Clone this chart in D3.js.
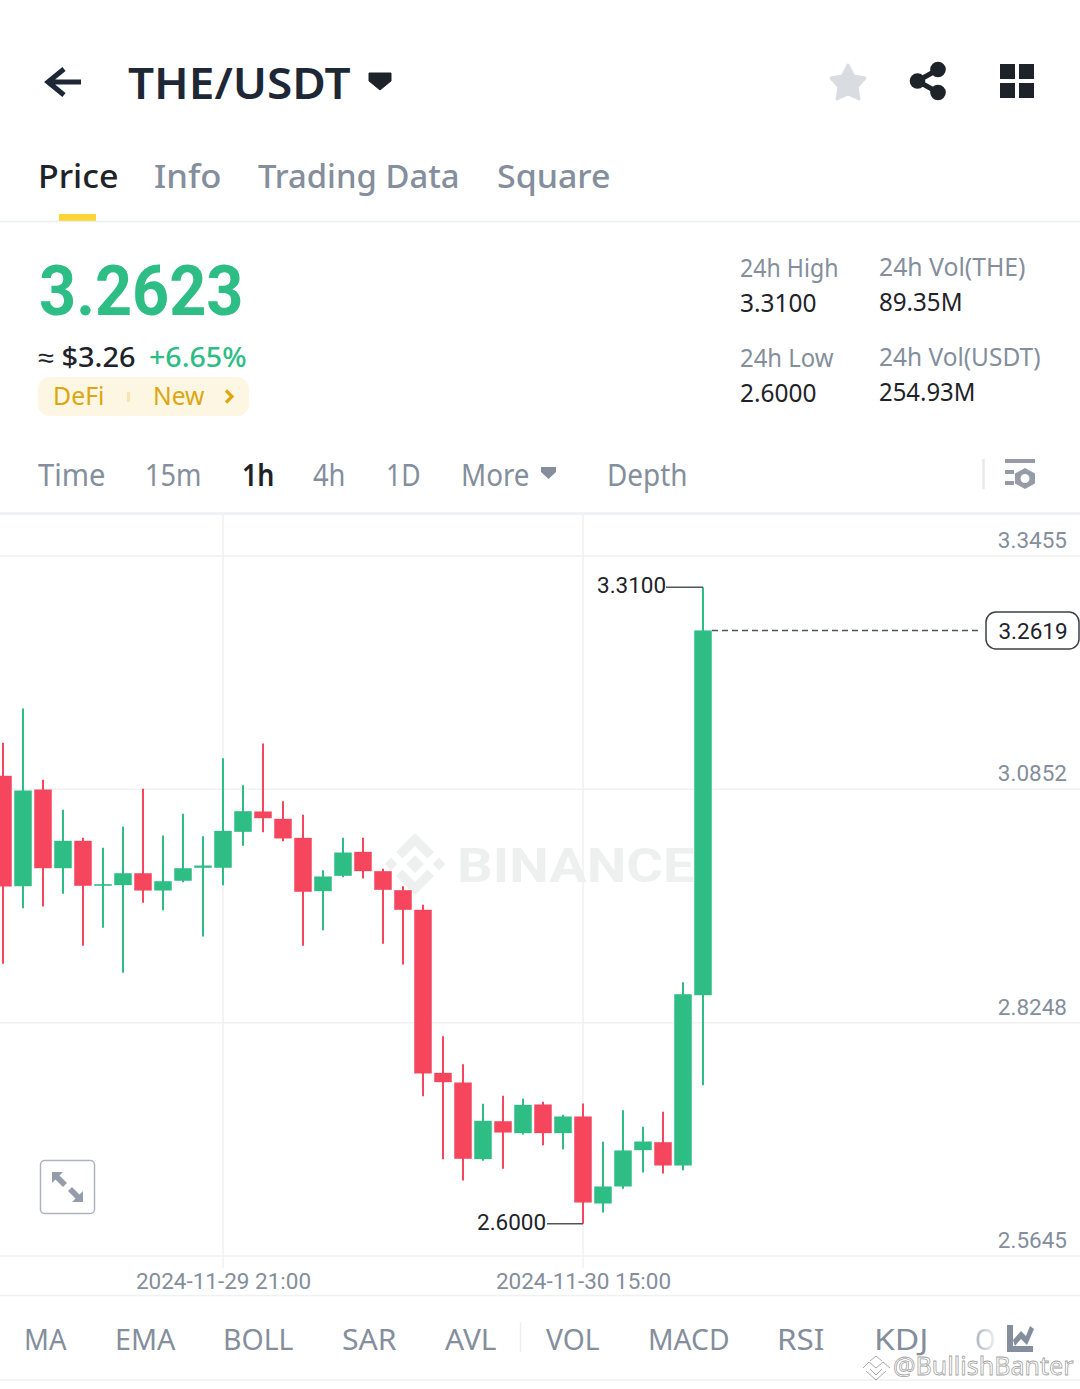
<!DOCTYPE html>
<html><head><meta charset="utf-8">
<style>html,body{margin:0;padding:0;background:#fff}svg{display:block}</style>
<script src="https://cdnjs.cloudflare.com/ajax/libs/d3/7.8.5/d3.min.js"></script>
</head><body>
<script>
const hours = ["2024-11-29 10:00","2024-11-29 11:00","2024-11-29 12:00","2024-11-29 13:00","2024-11-29 14:00","2024-11-29 15:00","2024-11-29 16:00","2024-11-29 17:00","2024-11-29 18:00","2024-11-29 19:00","2024-11-29 20:00","2024-11-29 21:00","2024-11-29 22:00","2024-11-29 23:00","2024-11-30 00:00","2024-11-30 01:00","2024-11-30 02:00","2024-11-30 03:00","2024-11-30 04:00","2024-11-30 05:00","2024-11-30 06:00","2024-11-30 07:00","2024-11-30 08:00","2024-11-30 09:00","2024-11-30 10:00","2024-11-30 11:00","2024-11-30 12:00","2024-11-30 13:00","2024-11-30 14:00","2024-11-30 15:00","2024-11-30 16:00","2024-11-30 17:00","2024-11-30 18:00","2024-11-30 19:00","2024-11-30 20:00","2024-11-30 21:00"];
const opens  = [3.0997,2.9765,3.0844,2.9966,3.0272,2.9770,2.9777,2.9910,2.9717,2.9826,2.9971,2.9971,3.0372,3.0599,3.0517,3.0305,2.9710,2.9881,3.0149,2.9933,2.9721,2.9502,2.7683,2.7575,2.6720,2.7143,2.7010,2.7330,2.7010,2.7196,2.6225,2.6415,2.6820,2.6909,2.6649,2.8549];
const closes = [2.9762,3.0833,2.9966,3.0272,2.9770,2.9788,2.9910,2.9717,2.9821,2.9966,2.9996,3.0383,3.0602,3.0524,3.0298,2.9703,2.9874,3.0141,2.9933,2.9725,2.9502,2.7676,2.7579,2.6724,2.7148,2.7017,2.7326,2.7010,2.7196,2.6236,2.6415,2.6817,2.6917,2.6649,2.8560,3.2619];
const highs  = [3.1365,3.1748,3.0952,3.0618,3.0305,3.0194,3.0428,3.0852,3.0331,3.0573,3.0323,3.1193,3.0892,3.1357,3.0714,3.0562,2.9944,3.0305,3.0305,2.9959,2.9765,2.9558,2.8092,2.7779,2.7338,2.7427,2.7393,2.7360,2.7215,2.7341,2.6914,2.7266,2.7081,2.7248,2.8694,3.3100];
const lows   = [2.8900,2.9520,2.9539,2.9681,2.9100,2.9301,2.8799,2.9580,2.9498,2.9810,2.9204,2.9777,3.0216,3.0368,3.0267,2.9100,2.9274,2.9866,2.9851,2.9123,2.8892,2.7422,2.6720,2.6482,2.6702,2.6612,2.6995,2.6876,2.6831,2.6000,2.6125,2.6389,2.6571,2.6560,2.6597,2.7545];
const priceTicks = [3.3455,3.0852,2.8248,2.5645];
const timeTicks = ["2024-11-29 21:00","2024-11-30 15:00"];
const lastPrice = 3.2619, highPrice = 3.31, lowPrice = 2.6;
const pair = "THE/USDT";
const navTabs = ["Price","Info","Trading Data","Square"];
const intervals = ["Time","15m","1h","4h","1D","More","Depth"];
const indicators = ["MA","EMA","BOLL","SAR","AVL","VOL","MACD","RSI","KDJ"];

const GREEN="#2ebd85", RED="#f6465d", DARK="#1e2329", GREY="#848e9c", LINE="#f0f1f3";
const UI="'Noto Sans',sans-serif", NUM="Roboto,sans-serif";

const svg=d3.select("body").append("svg").attr("width",1080).attr("height",1389).attr("viewBox","0 0 1080 1389");
const defs=svg.append("defs");
const fade=defs.append("linearGradient").attr("id","fade");
fade.append("stop").attr("offset","0").attr("stop-color","#aab2bd");
fade.append("stop").attr("offset","1").attr("stop-color","#eef0f2");

function T(s,x,y,o={}){
  const t=svg.append("text").attr("x",o.w?x-1:x).attr("y",y).text(s)
    .attr("font-family",o.font||UI).attr("font-size",o.size||25)
    .attr("font-weight",o.weight||400).attr("fill",o.fill||GREY);
  if(o.anchor)t.attr("text-anchor",o.anchor);
  if(o.w)t.attr("textLength",o.w+1.5).attr("lengthAdjust","spacingAndGlyphs");
  if(o.stroke)t.attr("stroke",o.stroke).attr("stroke-width",o.sw||0.7);
  return t;
}
const HL=(x1,x2,y,c=LINE,w=2)=>svg.append("line").attr("x1",x1).attr("x2",x2).attr("y1",y).attr("y2",y).attr("stroke",c).attr("stroke-width",w);
const VL=(x,y1,y2,c=LINE,w=2)=>svg.append("line").attr("x1",x).attr("x2",x).attr("y1",y1).attr("y2",y2).attr("stroke",c).attr("stroke-width",w);
const P=(d,fill,o={})=>svg.append("path").attr("d",d).attr("fill",fill).attr("stroke",o.stroke||"none").attr("stroke-width",o.sw||0).attr("stroke-linecap",o.cap||"butt").attr("stroke-linejoin",o.join||"miter");

/* header */
P("M81 82H49M64 69L48 82L64 95","none",{stroke:"#1e2736",sw:5});
T(pair,129,99,{size:44,weight:600,fill:"#1e2736",w:221});
P("M369 73H391V81L380 90L369 81Z","#1e2329",{stroke:"#1e2329",sw:1,join:"round"});
P("M848 65L853.5 76L865 78L857 87L859 99L848 94L837 99L839 87L831 78L842.5 76Z","#d9dce1",{stroke:"#d9dce1",sw:3,join:"round"});
P("M938 69.5L917.5 81L938 92.5","none",{stroke:DARK,sw:5});
[[938,69.5],[917.5,81],[938,92.5]].forEach(c=>svg.append("circle").attr("cx",c[0]).attr("cy",c[1]).attr("r",7.8).attr("fill",DARK));
[[1000,64],[1019,64],[1000,83],[1019,83]].forEach(c=>svg.append("rect").attr("x",c[0]).attr("y",c[1]).attr("width",15).attr("height",15).attr("fill",DARK));

/* tabs */
const tabX=[[39,79],[155,66],[259,200],[498,112]];
navTabs.forEach((s,i)=>T(s,tabX[i][0],188,{size:33,weight:500,fill:i?"#848e9c":DARK,w:tabX[i][1]}));
svg.append("rect").attr("x",59).attr("y",214).attr("width",37).attr("height",7).attr("fill","#fcd535");
HL(0,1080,221.5,"#eceef0",1.5);

/* price block */
T("3.2623",40,315,{font:"Roboto",size:71,weight:700,fill:GREEN,w:203});
T("≈ $3.26",39,367,{size:27,weight:500,fill:DARK,w:96});
T("+6.65%",150,367,{size:27,weight:500,fill:GREEN,w:96});
svg.append("rect").attr("x",38).attr("y",377).attr("width",211).attr("height",39).attr("rx",12).attr("fill","#fdf6e3");
T("DeFi",54,405,{size:25,fill:"#dda60d",w:50});
svg.append("rect").attr("x",127).attr("y",392).attr("width",3).attr("height",10).attr("fill","#f6e4ac");
T("New",154,405,{size:25,fill:"#dda60d",w:50});
P("M226 390.5L232 396.5L226 402.5","none",{stroke:"#dda60d",sw:3.2});

T("24h High",741,277,{size:25,w:97});
T("3.3100",741,312,{size:25,fill:DARK,w:75});
T("24h Low",741,367,{size:25,w:92});
T("2.6000",741,402,{size:25,fill:DARK,w:75});
T("24h Vol(THE)",880,276,{size:25,w:145});
T("89.35M",880,311,{size:25,fill:DARK,w:82});
T("24h Vol(USDT)",880,366,{size:25,w:160});
T("254.93M",880,401,{size:25,fill:DARK,w:95});

/* interval row */
const ivX=[[39,66],[146,55],[243,31],[314,31],[387,33],[462,67],[608,79]];
intervals.forEach((s,i)=>T(s,ivX[i][0],486,{size:30,weight:i==2?600:400,fill:i==2?DARK:GREY,w:ivX[i][1]}));
P("M541 467H556V472L548.5 479L541 472Z","#848e9c");
VL(983.5,459,489,"#e6e8ea",2.5);
svg.append("rect").attr("x",1005).attr("y",459).attr("width",30).attr("height",4).attr("fill","#959ca8");
svg.append("rect").attr("x",1005).attr("y",470).attr("width",9).attr("height",4).attr("fill","#959ca8");
svg.append("rect").attr("x",1005).attr("y",481).attr("width",9).attr("height",4).attr("fill","#959ca8");
P("M1025 468L1035 473.5V483.5L1025 489L1015 483.5V473.5Z M1025 474A4.5 4.5 0 1 0 1025 483A4.5 4.5 0 1 0 1025 474Z","#959ca8").attr("fill-rule","evenodd");
HL(0,1080,513.5,"#f1f2f4",3);

/* scales */
const y=d3.scaleLinear().domain([priceTicks[0],priceTicks[3]]).range([555.5,1255.5]);
const x=d3.scalePoint().domain(hours).range([3,703]);
const candles=hours.map((h,i)=>({h,o:opens[i],c:closes[i],hi:highs[i],lo:lows[i]}));
const col=d=>d.c>=d.o?GREEN:RED;

/* grid + axes */
const gx=svg.append("g").attr("transform","translate(0,1255)")
  .call(d3.axisBottom(x).tickValues(timeTicks).tickSize(0).tickPadding(0));
gx.select(".domain").remove();
gx.selectAll("text").attr("y",34).attr("dy",0).attr("font-family",NUM).attr("font-size",22.5).attr("fill",GREY);
svg.selectAll(".vgrid").data(timeTicks).join("line").attr("class","vgrid")
  .attr("x1",d=>x(d)).attr("x2",d=>x(d)).attr("y1",515).attr("y2",1268).attr("stroke",LINE).attr("stroke-width",1.5);
const gy=svg.append("g").attr("transform","translate(1080,0)")
  .call(d3.axisLeft(y).tickValues(priceTicks).tickSize(1080).tickFormat(d3.format(".4f")));
gy.select(".domain").remove();
gy.selectAll("line").attr("stroke",LINE).attr("stroke-width",1.5);
gy.selectAll("text").attr("x",-13).attr("dy",0).attr("y",-8).attr("text-anchor","end").attr("font-family",NUM).attr("font-size",22.5).attr("fill",GREY);

/* Binance watermark */
const wm=svg.append("g").attr("fill","#eef0f0").attr("transform","translate(415,864)");
wm.append("path").attr("d","M0 -9L9 0L0 9L-9 0Z M-24 -6.5L-17.5 0L-24 6.5L-30.5 0Z M24 -6.5L30.5 0L24 6.5L17.5 0Z M0 -31L19 -12L12.5 -5.5L0 -18L-12.5 -5.5L-19 -12Z M0 31L19 12L12.5 5.5L0 18L-12.5 5.5L-19 12Z");
T("BINANCE",458,882,{font:"Roboto",size:49,weight:700,fill:"#eef0f0",w:236});

/* candles */
svg.append("g").selectAll("line").data(candles).join("line")
  .attr("x1",d=>x(d.h)).attr("x2",d=>x(d.h)).attr("y1",d=>y(d.hi)).attr("y2",d=>y(d.lo)).attr("stroke",col).attr("stroke-width",2);
svg.append("g").selectAll("rect").data(candles).join("rect")
  .attr("x",d=>x(d.h)-8.75).attr("width",17.5)
  .attr("y",d=>y(Math.max(d.o,d.c))).attr("height",d=>Math.max(1.5,Math.abs(y(d.o)-y(d.c))))
  .attr("fill",col);

/* high / low / last annotations */
const hiC=candles[d3.maxIndex(highs)], loC=candles[d3.minIndex(lows)];
HL(666,x(hiC.h),y(highPrice),"#50555c",1.5);
T(d3.format(".4f")(highPrice),597,593,{font:NUM,size:22.5,fill:DARK});
HL(547,x(loC.h),y(lowPrice),"#50555c",1.5);
T(d3.format(".4f")(lowPrice),477,1230,{font:NUM,size:22.5,fill:DARK});
svg.append("line").attr("x1",712).attr("x2",978).attr("y1",y(lastPrice)).attr("y2",y(lastPrice)).attr("stroke","#50555c").attr("stroke-width",1.5).attr("stroke-dasharray","6 4");
svg.append("rect").attr("x",986).attr("y",612).attr("width",93).attr("height",37).attr("rx",10).attr("fill","#fff").attr("stroke","#3c4148").attr("stroke-width",1.5);
T(d3.format(".4f")(lastPrice),1033,639,{font:NUM,size:22.5,fill:DARK,anchor:"middle"});

/* fullscreen button */
svg.append("rect").attr("x",40.5).attr("y",1160.5).attr("width",54).attr("height",53).attr("rx",4).attr("fill","#fff").attr("stroke","#aeb4be").attr("stroke-width",1.5);
P("M52 1172H63L59.5 1175.5L67 1183L63 1187L55.5 1179.5L52 1183Z M83 1202H72L75.5 1198.5L68 1191L72 1187L79.5 1194.5L83 1191Z","#969daa");

/* bottom */
HL(0,1080,1295.5,LINE,1.5);
const indX=[[25,41],[116,59],[224,69],[343,53],[446,50],[547,52],[649,80],[778,46],[875,53]];
indicators.forEach((s,i)=>T(s,indX[i][0],1350,{size:29,w:indX[i][1]}));
VL(520.5,1322,1352,"#eceef0",1.5);
T("O",976,1350,{size:29,fill:"url(#fade)",w:19});
P("M1007 1325H1013V1346H1033V1352H1007Z M1013 1340L1021 1331L1026 1336L1030 1326L1034 1329L1027 1345L1021 1339L1015 1346Z","#848e9c");
HL(0,1080,1380,LINE,1.5);

/* overlay watermark */
P("M863 1368L869 1362L876 1368L883 1362L890 1368 M870 1361L876 1356L882 1361 M866 1371L876 1380L886 1371 M870 1369L876 1375L882 1369","none",{stroke:"#a8a8a8",sw:1});
T("@BullishBanter",894,1375,{size:26,fill:"#fff",stroke:"#a3a3a3",sw:0.8,w:179});
</script>
</body></html>
